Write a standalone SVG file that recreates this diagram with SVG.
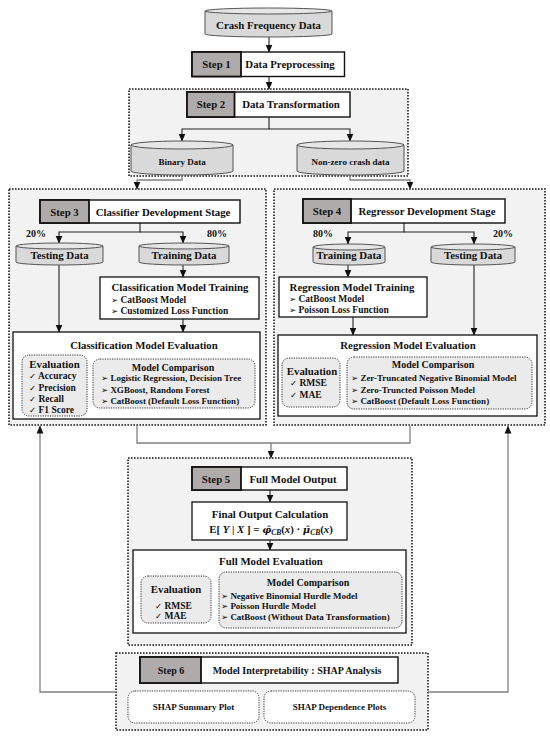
<svg xmlns="http://www.w3.org/2000/svg" width="550" height="740" viewBox="0 0 550 740">
<defs>
<style>
text{font-family:"Liberation Serif","Times New Roman",serif;font-weight:bold;fill:#111}
.s11{font-size:10.8px}
.s10{font-size:10px}
.s95{font-size:9.5px}
.s9{font-size:9px}
.m{text-anchor:middle}
.sym{font-family:"DejaVu Sans",sans-serif;font-weight:normal;font-size:8.5px}
.gr{font-family:"DejaVu Serif",serif;font-style:italic;font-size:10px}
.cont{fill:#f2f2f2;stroke:#1a1a1a;stroke-width:1.6;stroke-dasharray:1.6 1.4}
.stepw{fill:#fff;stroke:#111;stroke-width:1.4}
.stepg{fill:#b0abab;stroke:#111;stroke-width:1.8}
.box{fill:#fff;stroke:#111;stroke-width:1.3}
.dot{fill:#ebebeb;stroke:#333;stroke-width:1;stroke-dasharray:1.2 1.2}
.dotw{fill:#fff;stroke:#333;stroke-width:1;stroke-dasharray:1.2 1.2}
.cyl{fill:#d9d9d9;stroke:#555;stroke-width:1}
.cylt{fill:#e6e6e6;stroke:#555;stroke-width:1}
.c{fill:none;stroke:#222;stroke-width:1.1}
.g{fill:none;stroke:#808080;stroke-width:1.3}
</style>
<marker id="ah" markerWidth="8" markerHeight="8" refX="7.5" refY="4" orient="auto" markerUnits="userSpaceOnUse">
<path d="M0,0.5 L8,4 L0,7.5 z" fill="#111"/>
</marker>
</defs>
<rect width="550" height="740" fill="#fff"/>

<!-- containers -->
<g id="step2-container"><rect class="cont" x="129" y="89" width="279" height="87"/></g>
<g id="step3-container"><rect class="cont" x="9" y="189" width="257" height="236"/></g>
<g id="step4-container"><rect class="cont" x="274" y="189" width="271" height="236"/></g>
<g id="step5-container"><rect class="cont" x="128" y="458" width="284" height="187"/></g>
<g id="step6-container"><rect class="cont" x="116" y="653" width="312" height="77"/></g>

<!-- connectors -->
<g id="connectors">
<path class="c" d="M269,37 V52" marker-end="url(#ah)"/>
<path class="c" d="M269,76.5 V89" marker-end="url(#ah)"/>
<path class="c" d="M269,117 V129 H182 V141" marker-end="url(#ah)"/>
<path class="c" d="M269,129 H350 V141" marker-end="url(#ah)"/>
<path class="g" d="M182,175 V180 H137 V189" marker-end="url(#ah)"/>
<path class="g" d="M350,175 V180 H410 V189" marker-end="url(#ah)"/>
<path class="c" d="M140,223 V232 H59 V243" marker-end="url(#ah)"/>
<path class="c" d="M140,232 H183 V243" marker-end="url(#ah)"/>
<path class="c" d="M404,223 V232 H348 V244" marker-end="url(#ah)"/>
<path class="c" d="M404,232 H474 V244" marker-end="url(#ah)"/>
<path class="c" d="M183,265 V277" marker-end="url(#ah)"/>
<path class="c" d="M59,265 V332" marker-end="url(#ah)"/>
<path class="c" d="M183,319 V332" marker-end="url(#ah)"/>
<path class="c" d="M348,265 V277" marker-end="url(#ah)"/>
<path class="c" d="M353,317 V335" marker-end="url(#ah)"/>
<path class="c" d="M474,265 V335" marker-end="url(#ah)"/>
<path class="g" d="M137,426 V443 H410 V426"/>
<path class="g" d="M271,443 V458" marker-end="url(#ah)"/>
<path class="c" d="M270,490 V502" marker-end="url(#ah)"/>
<path class="c" d="M270,540 V550" marker-end="url(#ah)"/>
<path class="g" d="M116,692 H40 V426" marker-end="url(#ah)"/>
<path class="g" d="M428,692 H508 V426" marker-end="url(#ah)"/>
</g>

<!-- top -->
<g id="crash-data">
<path class="cyl" d="M205,11 V34 A63.5,3 0 0 0 332,34 V11"/>
<ellipse class="cylt" cx="268.5" cy="11" rx="63.5" ry="3"/>
<text class="s11 m" x="268.5" y="28.5">Crash Frequency Data</text>
</g>
<g id="step1">
<rect class="stepw" x="192" y="52" width="152.5" height="24.5"/>
<rect class="stepg" x="192" y="52" width="49" height="24.5"/>
<text class="s11 m" x="216.5" y="68">Step 1</text>
<text class="s11 m" x="290" y="68">Data Preprocessing</text>
</g>
<g id="step2">
<rect class="stepw" x="187" y="92" width="163" height="25"/>
<rect class="stepg" x="187" y="92" width="47.5" height="25"/>
<text class="s11 m" x="211" y="108">Step 2</text>
<text class="s11 m" x="291" y="108">Data Transformation</text>
</g>
<g id="binary-data">
<path class="cyl" d="M131,145 V171 A51,4 0 0 0 233,171 V145"/>
<ellipse class="cylt" cx="182" cy="145" rx="51" ry="4"/>
<text class="s9 m" x="182" y="165">Binary Data</text>
</g>
<g id="nonzero-data">
<path class="cyl" d="M297,145 V171 A53.5,4 0 0 0 404,171 V145"/>
<ellipse class="cylt" cx="350.5" cy="145" rx="53.5" ry="4"/>
<text class="s9 m" x="350.5" y="165">Non-zero crash data</text>
</g>

<!-- step 3 -->
<g id="step3">
<rect class="stepw" x="40" y="200" width="200" height="23"/>
<rect class="stepg" x="40" y="200" width="49" height="23"/>
<text class="s11 m" x="64.5" y="215.5">Step 3</text>
<text class="s11 m" x="163" y="215.5">Classifier Development Stage</text>
</g>
<g id="pct-l"><text class="s10 m" x="36" y="237">20%</text><text class="s10 m" x="217" y="237">80%</text></g>
<g id="testing-l">
<path class="cyl" d="M16,246 V262 A43.5,3 0 0 0 103,262 V246"/>
<ellipse class="cylt" cx="59.5" cy="246" rx="43.5" ry="3"/>
<text class="s11 m" x="59.5" y="259">Testing Data</text>
</g>
<g id="training-l">
<path class="cyl" d="M139,246 V262 A45,3 0 0 0 229,262 V246"/>
<ellipse class="cylt" cx="184" cy="246" rx="45" ry="3"/>
<text class="s11 m" x="184" y="259">Training Data</text>
</g>
<g id="cls-training">
<rect class="box" x="100" y="277" width="159" height="42"/>
<text class="s11 m" x="180" y="291">Classification Model Training</text>
<text class="s95" x="111" y="302.5"><tspan class="sym">➢</tspan> CatBoost Model</text>
<text class="s95" x="111" y="313.5"><tspan class="sym">➢</tspan> Customized Loss Function</text>
</g>
<g id="cls-eval">
<rect class="box" x="13" y="332" width="247" height="87"/>
<text class="s11 m" x="144" y="348.5">Classification Model Evaluation</text>
<rect class="dot" x="22" y="355" width="65" height="61" rx="7"/>
<text class="s11 m" x="54.5" y="368">Evaluation</text>
<text class="s95" x="29" y="379"><tspan class="sym">✓</tspan> Accuracy</text>
<text class="s95" x="29" y="390.5"><tspan class="sym">✓</tspan> Precision</text>
<text class="s95" x="29" y="401.5"><tspan class="sym">✓</tspan> Recall</text>
<text class="s95" x="29" y="413"><tspan class="sym">✓</tspan> F1 Score</text>
<rect class="dot" x="93" y="359" width="162" height="49" rx="7"/>
<text class="s10 m" x="173" y="371">Model Comparison</text>
<text class="s9" x="101" y="381"><tspan class="sym">➢</tspan> Logistic Regression, Decision Tree</text>
<text class="s9" x="101" y="393"><tspan class="sym">➢</tspan> XGBoost, Random Forest</text>
<text class="s9" x="101" y="404"><tspan class="sym">➢</tspan> CatBoost (Default Loss Function)</text>
</g>

<!-- step 4 -->
<g id="step4">
<rect class="stepw" x="303" y="199" width="202" height="24"/>
<rect class="stepg" x="303" y="199" width="48" height="24"/>
<text class="s11 m" x="327" y="215">Step 4</text>
<text class="s11 m" x="427" y="215">Regressor Development Stage</text>
</g>
<g id="pct-r"><text class="s10 m" x="323" y="237">80%</text><text class="s10 m" x="503" y="237">20%</text></g>
<g id="training-r">
<path class="cyl" d="M313,247 V262 A36,3 0 0 0 385,262 V247"/>
<ellipse class="cylt" cx="349" cy="247" rx="36" ry="3"/>
<text class="s11 m" x="349" y="259">Training Data</text>
</g>
<g id="testing-r">
<path class="cyl" d="M431,247 V262 A42,3 0 0 0 515,262 V247"/>
<ellipse class="cylt" cx="473" cy="247" rx="42" ry="3"/>
<text class="s11 m" x="473" y="259">Testing Data</text>
</g>
<g id="reg-training">
<rect class="box" x="279" y="277" width="148" height="40"/>
<text class="s11 m" x="352" y="290.5">Regression Model Training</text>
<text class="s95" x="289" y="301.5"><tspan class="sym">➢</tspan> CatBoost Model</text>
<text class="s95" x="289" y="312.5"><tspan class="sym">➢</tspan> Poisson Loss Function</text>
</g>
<g id="reg-eval">
<rect class="box" x="278" y="335" width="259" height="81"/>
<text class="s11 m" x="408" y="349">Regression Model Evaluation</text>
<rect class="dot" x="282" y="358" width="58" height="49" rx="7"/>
<text class="s11 m" x="312" y="375">Evaluation</text>
<text class="s95" x="290" y="386"><tspan class="sym">✓</tspan> RMSE</text>
<text class="s95" x="290" y="397.5"><tspan class="sym">✓</tspan> MAE</text>
<rect class="dot" x="347" y="357" width="185" height="52" rx="7"/>
<text class="s10 m" x="433" y="367.5">Model Comparison</text>
<text class="s9" x="351" y="380.5"><tspan class="sym">➢</tspan> Zer-Truncated Negative Binomial Model</text>
<text class="s9" x="351" y="392.5"><tspan class="sym">➢</tspan> Zero-Truncted Poisson Model</text>
<text class="s9" x="351" y="403.5"><tspan class="sym">➢</tspan> CatBoost (Default Loss Function)</text>
</g>

<!-- step 5 -->
<g id="step5">
<rect class="stepw" x="192" y="467" width="155" height="23"/>
<rect class="stepg" x="192" y="467" width="49" height="23"/>
<text class="s11 m" x="216" y="482.5">Step 5</text>
<text class="s11 m" x="293" y="482.5">Full Model Output</text>
</g>
<g id="final-output">
<rect class="box" x="192" y="502" width="155" height="38"/>
<text class="s11 m" x="270" y="518">Final Output Calculation</text>
<text class="s11 m" x="271" y="533">E[ <tspan font-style="italic">Y</tspan> | <tspan font-style="italic">X</tspan> ] = <tspan class="gr">φ̂</tspan><tspan font-style="italic" font-size="7.5" dy="2">CB</tspan><tspan dy="-2">(</tspan><tspan font-style="italic">x</tspan>) · <tspan class="gr">μ̂</tspan><tspan font-style="italic" font-size="7.5" dy="2">CB</tspan><tspan dy="-2">(</tspan><tspan font-style="italic">x</tspan>)</text>
</g>
<g id="full-eval">
<rect class="box" x="133" y="550" width="273" height="83"/>
<text class="s11 m" x="271" y="565">Full Model Evaluation</text>
<rect class="dot" x="141" y="576" width="70" height="47" rx="7"/>
<text class="s11 m" x="176" y="592.5">Evaluation</text>
<text class="s95" x="155" y="608.5"><tspan class="sym">✓</tspan> RMSE</text>
<text class="s95" x="155" y="619"><tspan class="sym">✓</tspan> MAE</text>
<rect class="dot" x="219" y="572" width="183" height="56" rx="7"/>
<text class="s10 m" x="308" y="585.5">Model Comparison</text>
<text class="s9" x="221" y="598.5"><tspan class="sym">➢</tspan> Negative Binomial  Hurdle Model</text>
<text class="s9" x="221" y="609"><tspan class="sym">➢</tspan> Poisson Hurdle Model</text>
<text class="s9" x="221" y="620"><tspan class="sym">➢</tspan> CatBoost (Without Data Transformation)</text>
</g>

<!-- step 6 -->
<g id="step6">
<rect class="stepw" x="140" y="657" width="258" height="26"/>
<rect class="stepg" x="140" y="657" width="61" height="26"/>
<text class="s10 m" x="171" y="673.5">Step 6</text>
<text class="s10 m" x="297" y="673.5">Model Interpretability : SHAP Analysis</text>
</g>
<g id="shap-summary">
<rect class="dotw" x="128" y="691" width="131" height="32" rx="7"/>
<text class="s9 m" x="193.5" y="710">SHAP Summary Plot</text>
</g>
<g id="shap-dependence">
<rect class="dotw" x="264" y="691" width="151" height="32" rx="7"/>
<text class="s9 m" x="339.5" y="710">SHAP Dependence Plots</text>
</g>
</svg>
